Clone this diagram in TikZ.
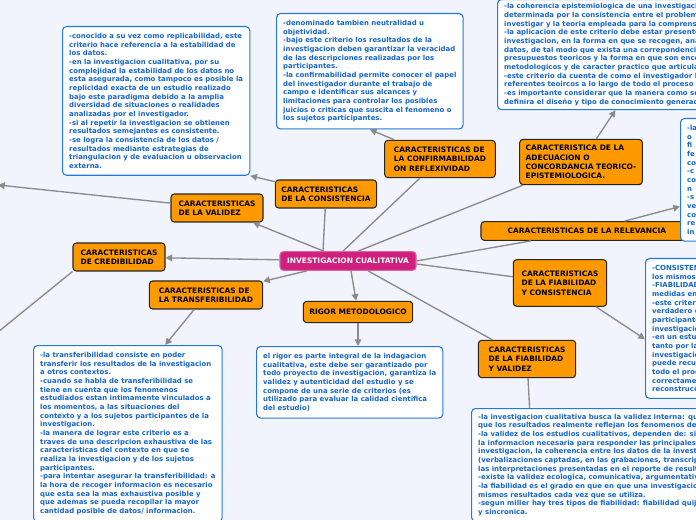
\documentclass[tikz,border=0pt]{standalone}
\usepackage{fontspec}
\setmainfont{DejaVu Sans}
\usetikzlibrary{arrows.meta}
\definecolor{bg}{HTML}{F1F4FC}
\definecolor{org}{HTML}{FF9900}
\definecolor{mag}{HTML}{D11F7D}
\definecolor{txtb}{HTML}{1565C8}
\definecolor{bord}{HTML}{2478DC}
\definecolor{lin}{HTML}{8A8A8A}
\begin{document}
\begin{tikzpicture}[x=0.75pt,y=-0.75pt,
  obox/.style={rounded corners=2.5pt,fill=org,draw=black!85,line width=0.8pt,font=\bfseries\fontsize{5.6}{7}\selectfont,align=left,inner sep=0pt,text=black},
  note/.style={rounded corners=3pt,fill=white,draw=bord,line width=0.8pt,font=\bfseries\fontsize{5.2}{6.5}\selectfont,align=left,anchor=north west,text=txtb,inner xsep=5pt,inner ysep=5pt},
  conn/.style={draw=lin,line width=1pt},
  arr/.style={conn,-{Triangle[width=5pt,length=5pt]}}]
\clip (0,0) rectangle (696,520);
\fill[bg] (0,0) rectangle (696,520);
\node[obox,minimum width=69pt,minimum height=21pt] (val) at (217,208) {CARACTERISTICAS\\DE LA VALIDEZ};
\node[obox,minimum width=76pt,minimum height=21pt] (cons) at (326,194) {CARACTERISTICAS\\DE LA CONSISTENCIA};
\node[obox,minimum width=83pt,minimum height=28pt] (conf) at (440,159) {CARACTERISTICAS DE\\LA CONFIRMABILIDAD\\ON REFLEXIVIDAD};
\node[obox,minimum width=92pt,minimum height=34pt] (adec) at (581,162) {CARACTERISTICA DE LA\\ADECUACION O\\CONCORDANCIA TEORICO-\\EPISTEMIOLOGICA.};
\node[obox,minimum width=159pt,minimum height=14pt] (rel) at (587,231) {CARACTERISTICAS DE LA RELEVANCIA};
\node[obox,minimum width=70pt,minimum height=35pt] (fcon) at (560,283) {CARACTERISTICAS\\DE LA FIABILIDAD\\Y CONSISTENCIA};
\node[obox,minimum width=69pt,minimum height=21pt] (cred) at (119,257) {CARACTERISTICAS\\DE CREDIBILIDAD};
\node[obox,minimum width=85pt,minimum height=21pt] (trans) at (206,295) {CARACTERISTICAS DE\\LA TRANSFERIBILIDAD};
\node[obox,minimum width=82pt,minimum height=16pt,align=center] (rig) at (358,312) {RIGOR METODOLOGICO};
\node[obox,minimum width=73pt,minimum height=28pt] (fval) at (527,359) {CARACTERISTICAS\\DE LA FIABILIDAD\\Y VALIDEZ};
\node[rounded corners=2.5pt,fill=mag,draw=mag!70!white,line width=0.8pt,text=white,font=\bfseries\fontsize{5.6}{7}\selectfont,minimum width=102pt,minimum height=14pt,inner sep=0pt] (inv) at (348,261) {INVESTIGACION CUALITATIVA};
\node[note] (n1) at (62,26) {-conocido a su vez como replicabilidad, este\\criterio hace referencia a la estabilidad de\\los datos.\\-en la investigacion cualitativa, por su\\complejidad la estabilidad de los datos no\\esta asegurada, como tampoco es posible la\\replicidad exacta de un estudio realizado\\bajo este paradigma debido a la amplia\\diversidad de situaciones o realidades\\analizadas por el investigador.\\-si al repetir la investigacion se obtienen\\resultados semejantes es consistente.\\-se logra la consistencia de los datos /\\resultados mediante estrategias de\\triangulacion y de evaluacion u observacion\\externa.};
\node[note] (n2) at (276,13) {-denominado tambien neutralidad u\\objetividad.\\-bajo este criterio los resultados de la\\investigacion deben garantizar la veracidad\\de las descripciones realizadas por los\\participantes.\\-la confirmabilidad permite conocer el papel\\del investigador durante el trabajo de\\campo e identificar sus alcances y\\limitaciones para controlar los posibles\\juicios o criticas que suscita el fenomeno o\\los sujetos participantes.};
\node[note,inner ysep=3pt] (n3) at (497,-1) {-la coherencia epistemiologica de una investigacion esta\\determinada por la consistencia entre el problema a\\investigar y la teoria empleada para la comprension del mismo.\\-la aplicacion de este criterio debe estar presente en toda la\\investigacion, en la forma en que se recogen, analizan los\\datos, de tal modo que exista una correpondencia entre los\\presupuestos teoricos y la forma en que son encontrados los\\metodologicos y de caracter practico que articulan la investigacion.\\-este criterio da cuenta de como el investigador ha utilizado los\\referentes teoircos a lo largo de todo el proceso de investigacion.\\-es importante considerar que la manera como se plantea el problema\\definira el diseño y tipo de conocimiento generado.};
\node[note,text width=60pt] (n4) at (680,118) {-la\\o\\fi\\fe\\co\\-c\\co\\n\\-s\\ve\\co\\re\\in};
\node[note] (n5) at (645,258) {-CONSISTENCIA: que\\los mismos resultados\\-FIABILIDAD: grado de\\medidas en la investigacion\\-este criterio permite\\verdadero conocimiento\\participantes de la\\investigacion.\\-en un estudio cualitativo\\tanto por la forma de\\investigacion, el investigador\\puede recuperar\\todo el proceso\\correctamente la\\reconstruccion};
\node[note] (n6) at (33,345) {-la transferibilidad consiste en poder\\transferir los resultados de la investigacion\\a otros contextos.\\-cuando se habla de transferibilidad se\\tiene en cuenta que los fenomenos\\estudiados estan intimamente vinculados a\\los momentos, a las situaciones del\\contexto y a los sujetos participantes de la\\investigacion.\\-la manera de lograr este criterio es a\\traves de una descripcion exhaustiva de las\\caracteristicas del contexto en que se\\realiza la investigacion y de los sujetos\\participantes.\\-para intentar asegurar la transferibilidad: a\\la hora de recoger informacion es necesario\\que esta sea la mas exhaustiva posible y\\que ademas se pueda recopilar la mayor\\cantidad posible de datos/ informacion.};
\node[note] (n7) at (256,346) {el rigor es parte integral de la indagacion\\cualitativa, este debe ser garantizado por\\todo proyecto de investigacion, garantiza la\\validez y autenticidad del estudio y se\\compone de una serie de criterios (es\\utilizado para evaluar la calidad cientifica\\del estudio)};
\node[note,inner ysep=4pt] (n8) at (471,408) {-la investigacion cualitativa busca la validez interna: que significa\\que los resultados realmente reflejan los fenomenos de estudio.\\-la validez de los estudios cualitativos, dependen de: si se recoge\\la informacion necesaria para responder las principales preguntas de\\investigacion, la coherencia entre los datos de la investigacion\\(verbalizaciones captadas, en las grabaciones, transcripciones) y\\las interpretaciones presentadas en el reporte de resultados.\\-existe la validez ecologica, comunicativa, argumentativa\\-la fiabilidad es el grado en que en que una investigacion da los\\mismos resultados cada vez que se utiliza.\\-segun miller hay tres tipos de fiabilidad: fiabilidad quijotesca, diacronica\\y sincronica.};
\coordinate (valE) at (-2,185);
\coordinate (credE) at (-2,332);
\draw[arr] (inv) -- (val);
\draw[conn] (inv.north) ++(-25,0) -- (cons);
\draw[conn] (inv.north) ++(-5,0) -- (conf);
\draw[conn] (inv.north) ++(10,0) -- (adec);
\draw[conn] (inv.east) -- (rel);
\draw[conn] (inv.east) ++(0,3) -- (fcon);
\draw[arr] (inv) -- (cred);
\draw[arr] (inv) -- (trans);
\draw[arr] (inv.south) ++(3,0) -- (rig);
\draw[conn] (inv.south) ++(20,0) -- (fval);
\draw[arr] (val) -- (valE);
\draw[conn] (cred.south west) -- (credE);
\draw[arr] (cons) -- (n1.south east);
\draw[arr] (conf) -- (n2.south);
\draw[arr] (adec) -- ([xshift=-20pt]n3.south);
\draw[arr] (rel) -- ([yshift=-20pt]n4.west);
\draw[arr] (fcon) -- ([yshift=-8pt]n5.west);
\draw[arr] (trans) -- ([xshift=28pt]n6.north);
\draw[arr] (rig) -- (rig |- n7.north);
\draw[conn] (fval) -- ([xshift=-70pt]n8.north);
\end{tikzpicture}
\end{document}
